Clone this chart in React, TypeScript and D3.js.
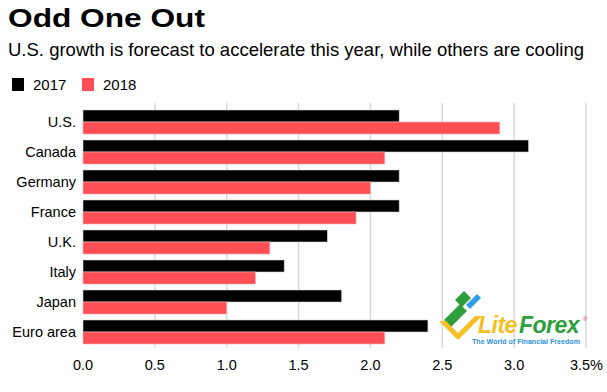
import * as d3 from "d3";

const countries = ["U.S.", "Canada", "Germany", "France", "U.K.", "Italy", "Japan", "Euro area"];
const growth2017 = [2.2, 3.1, 2.2, 2.2, 1.7, 1.4, 1.8, 2.4];
const growth2018 = [2.9, 2.1, 2.0, 1.9, 1.3, 1.2, 1.0, 2.1];
const xTicks = [0, 0.5, 1, 1.5, 2, 2.5, 3, 3.5];
const seriesNames = ["2017", "2018"];
const seriesColors = ["#000000", "#ff4f56"];

const W = 607;
const H = 392;
const font = "'Liberation Sans', Arial, sans-serif";

export default function App() {
  const x = d3.scaleLinear().domain([0, 3.5]).range([83, 586]);
  const y = d3.scaleBand().domain(countries).range([107, 347]).paddingInner(0.2).paddingOuter(0.1);
  const sub = d3.scaleBand().domain(seriesNames).range([0, y.bandwidth()]);
  const series = [growth2017, growth2018];
  const last = xTicks.length - 1;

  return (
    <svg width={W} height={H} style={{ position: "absolute", left: 0, top: 0, background: "#fff" }} fontFamily={font}>
      <text x={8} y={27} fontSize={25} fontWeight={700} fill="#000" textLength={197} lengthAdjust="spacingAndGlyphs">Odd One Out</text>
      <text x={8} y={56} fontSize={18.5} fill="#000" textLength={576} lengthAdjust="spacingAndGlyphs">
        U.S. growth is forecast to accelerate this year, while others are cooling
      </text>
      {seriesNames.map((s, i) => (
        <g key={s} transform={`translate(${12 + i * 70},78)`}>
          <rect width={12} height={13} fill={seriesColors[i]} />
          <text x={21} y={12} fontSize={15} fill="#000">{s}</text>
        </g>
      ))}
      {xTicks.slice(1).map(t => (
        <line key={t} x1={x(t)} x2={x(t)} y1={103} y2={348} stroke="#d8d8d8" strokeWidth={1.5} />
      ))}
      {countries.map((c, ci) => (
        <g key={c}>
          {series.map((vals, si) => (
            <rect
              key={si}
              x={x(0)}
              y={y(c)! + sub(seriesNames[si])!}
              width={x(vals[ci]) - x(0)}
              height={sub.bandwidth()}
              fill={seriesColors[si]}
              stroke={si === 0 ? "#cfcfcf" : "#ffb0b3"}
              strokeWidth={0.6}
            />
          ))}
          <text x={76} y={y(c)! + y.bandwidth() / 2 + 5} textAnchor="end" fontSize={14.5} fill="#000">{c}</text>
        </g>
      ))}
      {xTicks.map((t, i) => (
        <text key={t} x={i === last ? 603 : x(t)} y={370} textAnchor={i === last ? "end" : "middle"} fontSize={14.5} fill="#000">
          {d3.format(".1f")(t) + (i === last ? "%" : "")}
        </text>
      ))}
      <g transform="translate(438,290)">
        <path d="M6 30 L22 14 L29 21 L13 37 Z" fill="#2e9e3e" />
        <path d="M17 10 L26 1 L33 8 L24 17 Z" fill="#2e9e3e" />
        <path d="M28 15 L39 4 L43 8 L32 19 Z" fill="#2f9ee8" />
        <path d="M1 31 L20 50 L44 26 L37 26 L20 43 L8 31 Z" fill="#f5c024" />
        <text x={40} y={43} fontSize={23} fontWeight={700} fontStyle="italic" fill="#f5c024" letterSpacing={-0.5}>Lite</text>
        <text x={81} y={43} fontSize={23} fontWeight={700} fontStyle="italic" fill="#2e9e3e" letterSpacing={-0.5}>Forex</text>
        <text x={145} y={31} fontSize={6} fill="#e03a3a">®</text>
        <text x={34} y={54} fontSize={7} fontWeight={700} fill="#2f8fd8" textLength={108} lengthAdjust="spacingAndGlyphs">The World of Financial Freedom</text>
      </g>
    </svg>
  );
}
